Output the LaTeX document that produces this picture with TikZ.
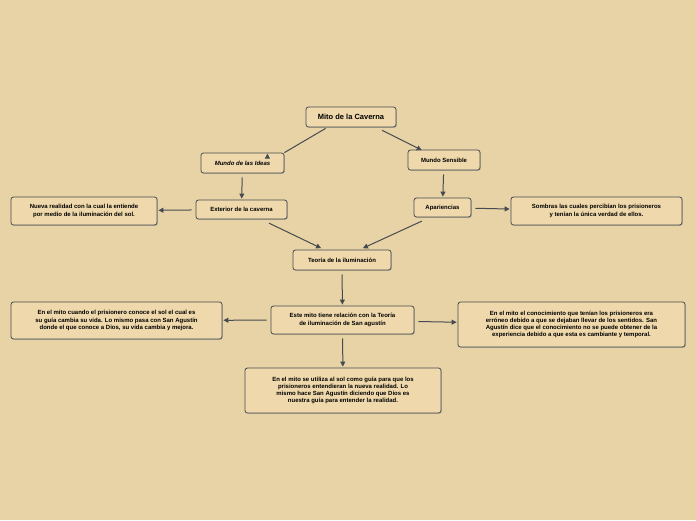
\documentclass[tikz,border=0pt]{standalone}
\usepackage{fontspec}
\setmainfont{Liberation Sans}
\usetikzlibrary{arrows.meta,shadows}
\definecolor{bg}{HTML}{E8D3A6}
\definecolor{bx}{HTML}{EFD9AC}
\definecolor{ln}{HTML}{474B50}
\begin{document}
\begin{tikzpicture}[x=1pt,y=-1pt,
 box/.style={draw=ln,fill=bx,rounded corners=2.5pt,line width=0.8pt,inner sep=2pt,align=center,
   font=\bfseries\fontsize{6}{7.2}\selectfont,drop shadow={shadow xshift=0.8pt,shadow yshift=-0.8pt,fill=black!45,opacity=0.5}},
 arr/.style={draw=ln,line width=1pt,-{Triangle[length=5pt,width=5pt]},shorten <=4pt,shorten >=1pt}]
\fill[bg] (0,0) rectangle (696,520);
\node[box,minimum width=90pt,minimum height=20pt,font=\bfseries\fontsize{7.5}{9}\selectfont] (mito) at (351,117) {Mito de la Caverna};
\node[box,minimum width=83pt,minimum height=20pt] (ideas) at (242.5,163) {\itshape Mundo de las Ideas};
\node[box,minimum width=72pt,minimum height=20pt] (sens) at (444,160) {Mundo Sensible};
\node[box,minimum width=91pt,minimum height=19pt] (ext) at (241.5,209.5) {Exterior de la caverna};
\node[box,minimum width=146pt,minimum height=28pt] (nueva) at (84,211) {Nueva realidad con la cual la entiende\\por medio de la iluminación del sol.};
\node[box,minimum width=57pt,minimum height=19pt] (apar) at (442.5,207.5) {Apariencias};
\node[box,minimum width=171pt,minimum height=28pt] (somb) at (596.5,211) {Sombras las cuales percibían los prisioneros\\y tenían la única verdad de ellos.};
\node[box,minimum width=98pt,minimum height=20pt] (teo) at (342,260) {Teoría de la iluminación};
\node[box,minimum width=143pt,minimum height=28pt] (este) at (342.5,320) {Este mito tiene relación con la Teoría\\de iluminación de San agustín};
\node[box,minimum width=211pt,minimum height=37pt] (izq) at (116.5,320.5) {En el mito cuando el prisionero conoce el sol el cual es\\su guía cambia su vida. Lo mismo pasa con San Agustín\\donde el que conoce a Dios, su vida cambia y mejora.};
\node[box,minimum width=227pt,minimum height=45pt] (der) at (571.5,324.5) {En el mito el conocimiento que tenían los prisioneros era\\erróneo debido a que se dejaban llevar de los sentidos. San\\Agustín dice que el conocimiento no se puede obtener de la\\experiencia debido a que esta es cambiante y temporal.};
\node[box,minimum width=196pt,minimum height=45pt] (abajo) at (343,390.5) {En el mito se utiliza al sol como guía para que los\\prisioneros entendieran la nueva realidad. Lo\\mismo hace San Agustín diciendo que Dios es\\nuestra guía para entender la realidad.};
\draw[arr] (mito.south west)++(20,1) coordinate (m1) -- (ideas.north east) ++(-17,0) coordinate(x);
\path (mito.south west)++(20,1) coordinate (m1);
\path (ideas.north)++(23,1) coordinate (i1);
\path (mito.south east)++(-18,1) coordinate (m2);
\path (sens.north west)++(15,1) coordinate (s1);
\draw[arr] (m2) -- (s1);
\draw[arr] (ideas) -- (ext);
\draw[arr] (sens) -- (apar);
\draw[arr] (ext) -- (nueva);
\draw[arr] (apar) -- (somb);
\path (ext.south east)++(-22,2) coordinate (e1);
\path (teo.north)++(-20,-1) coordinate (t1);
\draw[arr] (e1) -- (t1);
\path (apar.south)++(-17,2) coordinate (a1);
\path (teo.north)++(20,-1) coordinate (t2);
\draw[arr] (a1) -- (t2);
\draw[arr] (teo) -- (este);
\draw[arr] (este) -- (izq);
\draw[arr] (este) -- (der);
\draw[arr] (este) -- (abajo);
\end{tikzpicture}
\end{document}
